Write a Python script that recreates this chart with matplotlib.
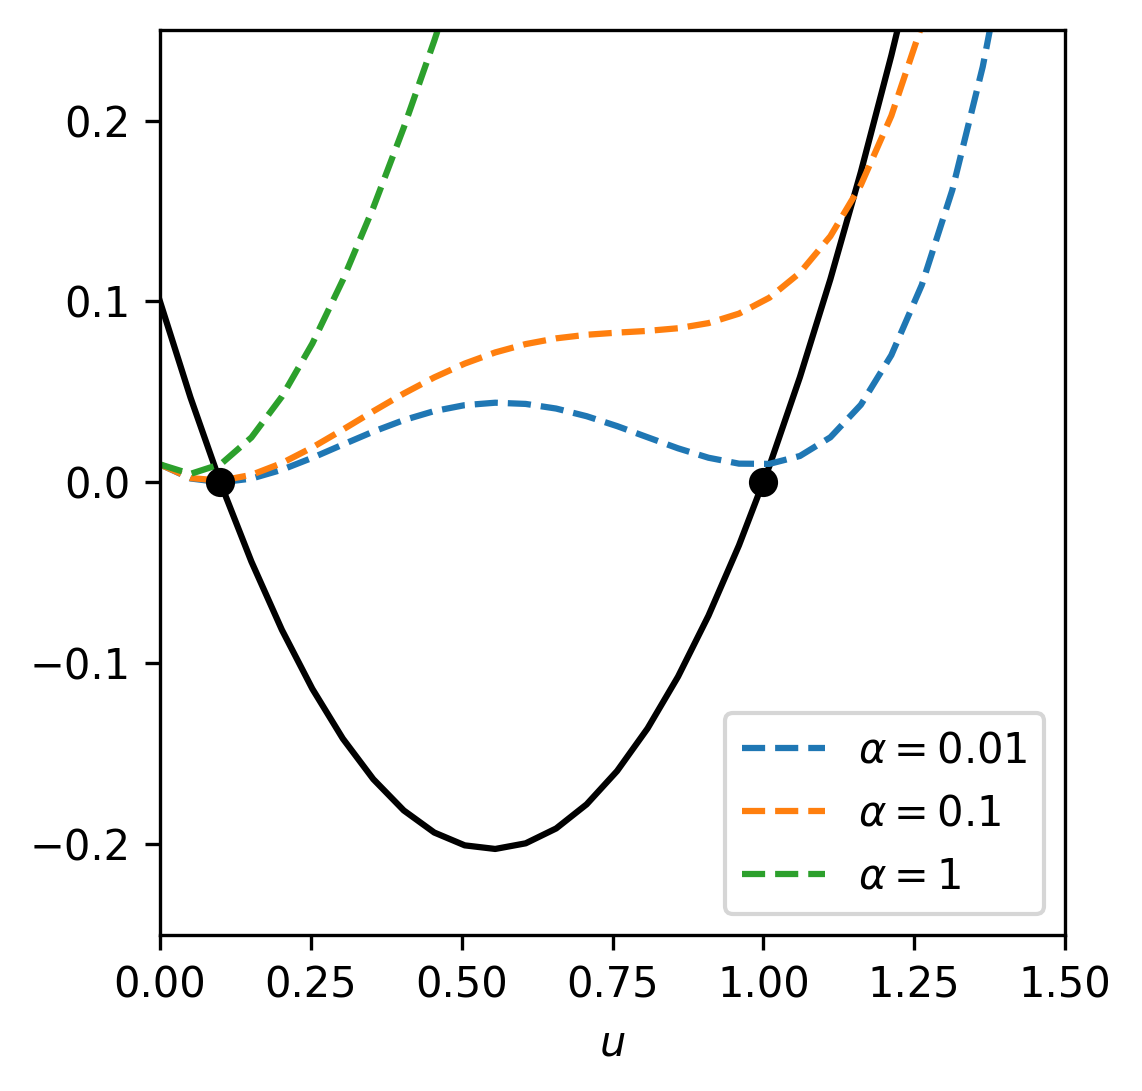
import matplotlib
matplotlib.use("Agg")
import matplotlib.pyplot as plt

# puntos de muestreo en u
u = [0.0000, 0.0505, 0.1010, 0.1515, 0.2020, 0.2525, 0.3030, 0.3535, 0.4040, 0.4545,
     0.5051, 0.5556, 0.6061, 0.6566, 0.7071, 0.7576, 0.8081, 0.8586, 0.9091, 0.9596,
     1.0101, 1.0606, 1.1111, 1.1616, 1.2121, 1.2626, 1.3131, 1.3636, 1.4141, 1.4646,
     1.5152]

# curva negra
f_u = [0.10000, 0.04700, -0.00091, -0.04370, -0.08140, -0.11399, -0.14149, -0.16389,
       -0.18118, -0.19338, -0.20048, -0.20247, -0.19935, -0.19114, -0.17782, -0.15940,
       -0.13588, -0.10727, -0.07355, -0.03473, 0.00919, 0.05821, 0.11234, 0.17155,
       0.23588, 0.30530, 0.37982, 0.45945, 0.54417, 0.63399, 0.72911]

# curvas discontinuas
g_001 = [0.01000, 0.00223, 0.00010, 0.00214, 0.00703, 0.01363, 0.02094, 0.02811,
         0.03446, 0.03946, 0.04274, 0.04408, 0.04341, 0.04085, 0.03662, 0.03115,
         0.02499, 0.01888, 0.01368, 0.01041, 0.01029, 0.01464, 0.02497, 0.04292,
         0.07033, 0.10915, 0.16150, 0.22969, 0.31612, 0.42339, 0.55456]
g_01 = [0.01000, 0.00246, 0.00102, 0.00421, 0.01071, 0.01937, 0.02920, 0.03936,
        0.04915, 0.05806, 0.06570, 0.07186, 0.07647, 0.07964, 0.08162, 0.08280,
        0.08376, 0.08522, 0.08806, 0.09329, 0.10211, 0.11588, 0.13608, 0.16436,
        0.20256, 0.25263, 0.31669, 0.39704]
g_1 = [0.01000, 0.00476, 0.01020, 0.02487, 0.04744, 0.07676, 0.11185, 0.15185,
       0.19608, 0.24401, 0.29527, 0.34963]

raices_u = [0.1, 1.0]
raices_y = [0.0, 0.0]

etiquetas = [r"$\alpha = 0.01$", r"$\alpha = 0.1$", r"$\alpha = 1$"]

fig = plt.figure(figsize=(1142 / 300, 1091 / 300), dpi=300)
ax = fig.add_axes([0.1401, 0.1430, 0.7925, 0.8295])

ax.plot(u, f_u, color="black")
ax.plot(u[:len(g_001)], g_001, "--", color="C0", label=etiquetas[0])
ax.plot(u[:len(g_01)], g_01, "--", color="C1", label=etiquetas[1])
ax.plot(u[:len(g_1)], g_1, "--", color="C2", label=etiquetas[2])
ax.plot(raices_u, raices_y, "o", color="black")

ax.set_xlim(0, 1.5)
ax.set_ylim(-0.25, 0.25)
ax.set_yticks([-0.2, -0.1, 0.0, 0.1, 0.2])
ax.set_xlabel("$u$")
ax.legend(loc="lower right")

fig.savefig("out.png", dpi=300)
